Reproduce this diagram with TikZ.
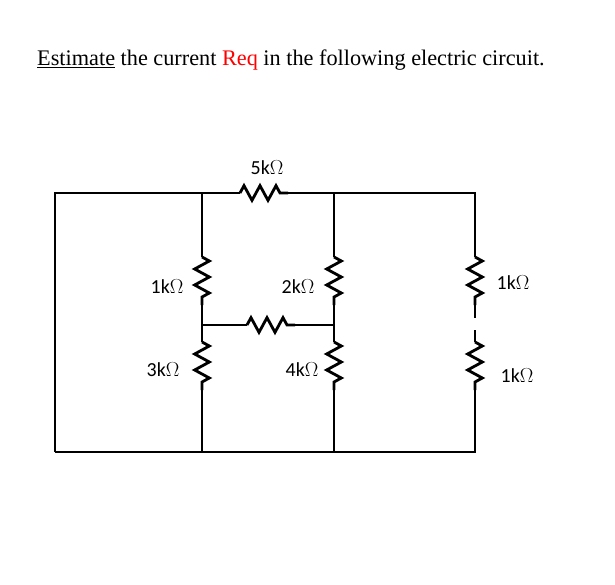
\documentclass[tikz,border=0pt]{standalone}
\usepackage{fontspec}
\setmainfont{Liberation Serif}
\newfontfamily\labelfont{Carlito}
\usetikzlibrary{decorations.pathmorphing}
\tikzset{
  wire/.style={line width=2.4pt},
  res/.style={wire,decorate,decoration={zigzag,segment length=0.48cm,amplitude=0.22cm}},
  val/.style={font=\labelfont\fontsize{17}{17}\selectfont,inner sep=0pt}
}
\begin{document}
\begin{tikzpicture}[x=0.03cm,y=-0.03cm]
    \useasboundingbox (0,0) rectangle (615,584);
    \node[anchor=west,inner sep=0pt,font=\fontsize{19}{20}\selectfont] (title) at (37,60)
      {\underline{Estimate} the current \textcolor{red}{Req} in the following electric circuit.};

    % corners and junctions
    \coordinate (tl) at (55,193); \coordinate (bl) at (55,452);
    \coordinate (ta) at (202,193); \coordinate (tb) at (334,193); \coordinate (tr) at (475,193);
    \coordinate (ba) at (202,452); \coordinate (bb) at (334,452); \coordinate (br) at (475,452);
    \coordinate (ma) at (202,325); \coordinate (mb) at (334,325);
    % resistor ends
    \coordinate (r5a) at (240,193); \coordinate (r5b) at (288,193);
    \coordinate (r1a) at (202,257); \coordinate (r1b) at (202,305);
    \coordinate (r3a) at (202,342); \coordinate (r3b) at (202,390);
    \coordinate (r2a) at (334,257); \coordinate (r2b) at (334,305);
    \coordinate (r4a) at (334,342); \coordinate (r4b) at (334,390);
    \coordinate (rma) at (247,325); \coordinate (rmb) at (295,325);
    \coordinate (rra) at (475,257); \coordinate (rrb) at (475,305);
    \coordinate (rsa) at (475,342); \coordinate (rsb) at (475,390);
    \coordinate (gap1) at (475,318); \coordinate (gap2) at (475,330);

    % wires
    \draw[wire] (bl) -- (tl) -- (r5a);
    \draw[wire] (r5b) -- (tr) -- (rra);
    \draw[wire] (ta) -- (r1a); \draw[wire] (r1b) -- (r3a); \draw[wire] (r3b) -- (ba);
    \draw[wire] (tb) -- (r2a); \draw[wire] (r2b) -- (r4a); \draw[wire] (r4b) -- (bb);
    \draw[wire] (ma) -- (rma); \draw[wire] (rmb) -- (mb);
    \draw[wire] (rrb) -- (gap1); \draw[wire] (gap2) -- (rsa); \draw[wire] (rsb) -- (br) -- (bl);

    % resistors
    \foreach \a/\b in {r5a/r5b,r1a/r1b,r3a/r3b,r2a/r2b,r4a/r4b,rma/rmb,rra/rrb,rsa/rsb}
      \draw[res] (\a) -- (\b);

    % values
    \node[val] (v5) at (267,168) {5k$\Omega$};
    \node[val] (v1) at (167,287) {1k$\Omega$};
    \node[val] (v2) at (298,287) {2k$\Omega$};
    \node[val] (v3) at (163,370) {3k$\Omega$};
    \node[val] (v4) at (302,370) {4k$\Omega$};
    \node[val] (v6) at (513,283) {1k$\Omega$};
    \node[val] (v7) at (517,376) {1k$\Omega$};
\end{tikzpicture}
\end{document}
